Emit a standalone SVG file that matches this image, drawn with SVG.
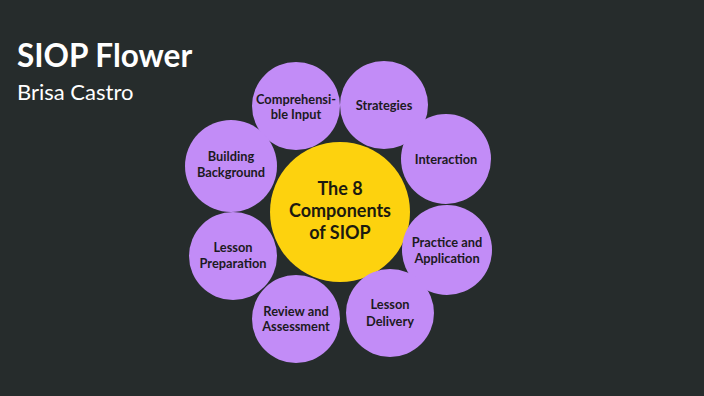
<svg xmlns="http://www.w3.org/2000/svg" width="704" height="396" viewBox="0 0 704 396">
<style>
.p{fill:#c28cf7}
.y{fill:#fdd20e}
.t{font-family:Lato,"Open Sans","Liberation Sans",sans-serif;font-size:12.8px;font-weight:bold;fill:#1c1a22;text-anchor:middle}
.c{font-family:Lato,"Open Sans","Liberation Sans",sans-serif;font-size:18px;font-weight:bold;fill:#1c1a10;text-anchor:middle}
.h{font-family:Lato,"Open Sans","Liberation Sans",sans-serif;fill:#ffffff}
</style>
<rect width="704" height="396" fill="#262c2c"/>
<text class="h" x="17" y="67" font-size="31.5" font-weight="bold">SIOP Flower</text>
<text class="h" x="17" y="100" font-size="22">Brisa Castro</text>
<g id="center"><circle class="y" cx="340" cy="212" r="70"/>
<text class="c" x="340" y="195">The 8</text><text class="c" x="340" y="217">Components</text><text class="c" x="340" y="239">of SIOP</text></g>
<g id="n1"><circle class="p" cx="296" cy="106" r="44"/><text class="t" x="296" y="104">Comprehensi-</text><text class="t" x="296" y="119">ble Input</text></g>
<g id="n2"><circle class="p" cx="384" cy="105" r="44"/><text class="t" x="384" y="110">Strategies</text></g>
<g id="n3"><circle class="p" cx="446" cy="159" r="45"/><text class="t" x="446" y="164">Interaction</text></g>
<g id="n4"><circle class="p" cx="447" cy="250" r="45"/><text class="t" x="447" y="247">Practice and</text><text class="t" x="447" y="263">Application</text></g>
<g id="n5"><circle class="p" cx="390" cy="313" r="44"/><text class="t" x="390" y="309">Lesson</text><text class="t" x="390" y="326">Delivery</text></g>
<g id="n6"><circle class="p" cx="296" cy="319" r="44"/><text class="t" x="296" y="316">Review and</text><text class="t" x="296" y="331">Assessment</text></g>
<g id="n7"><circle class="p" cx="233" cy="256" r="44"/><text class="t" x="233" y="252">Lesson</text><text class="t" x="233" y="268">Preparation</text></g>
<g id="n8"><circle class="p" cx="231" cy="166" r="46"/><text class="t" x="231" y="161">Building</text><text class="t" x="231" y="177">Background</text></g>
<g id="connectors"/>
</svg>
